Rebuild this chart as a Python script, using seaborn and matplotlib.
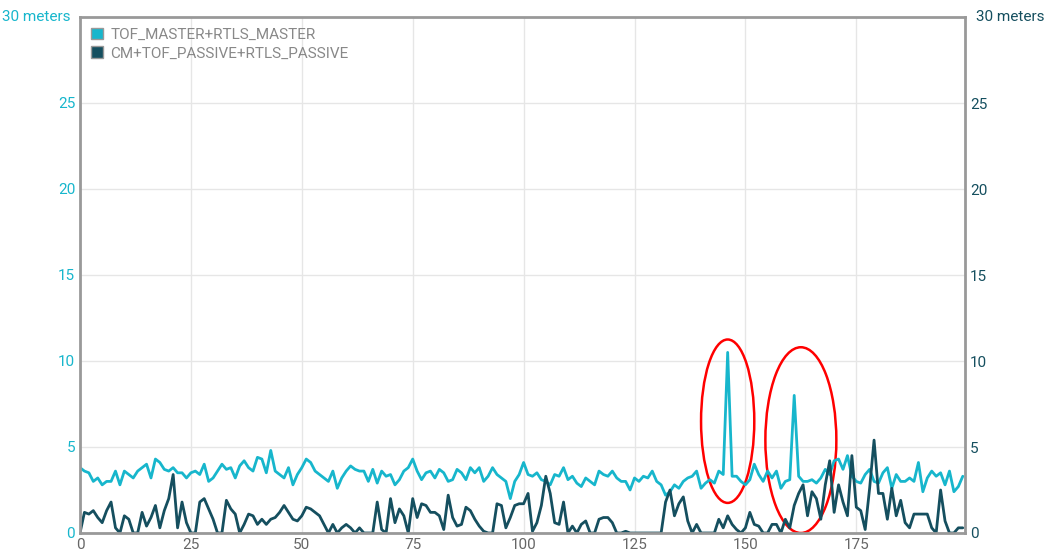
import numpy as np
import pandas as pd
import seaborn as sns
import matplotlib
matplotlib.use("Agg")
import matplotlib.pyplot as plt
from matplotlib.patches import Ellipse, Patch

tof_master = [3.8,3.6,3.5,3.0,3.2,2.8,3.0,3.0,3.6,2.8,
              3.6,3.4,3.2,3.6,3.8,4.0,3.2,4.3,4.1,3.7,
              3.6,3.8,3.5,3.5,3.2,3.5,3.6,3.4,4.0,3.0,
              3.2,3.6,4.0,3.7,3.8,3.2,3.9,4.2,3.8,3.6,
              4.4,4.3,3.5,4.8,3.6,3.4,3.2,3.8,2.8,3.4,
              3.8,4.3,4.1,3.6,3.4,3.2,3.0,3.6,2.6,3.2,
              3.6,3.9,3.7,3.6,3.6,3.0,3.7,2.9,3.6,3.3,
              3.4,2.8,3.1,3.6,3.8,4.3,3.6,3.1,3.5,3.6,
              3.2,3.7,3.5,3.0,3.1,3.7,3.5,3.1,3.8,3.5,
              3.8,3.0,3.3,3.8,3.4,3.2,3.0,2.0,3.0,3.4,
              4.1,3.4,3.3,3.5,3.1,3.0,2.8,3.4,3.3,3.8,
              3.1,3.3,2.9,2.7,3.2,3.0,2.8,3.6,3.4,3.3,
              3.6,3.2,3.0,3.0,2.5,3.2,3.0,3.3,3.2,3.6,
              3.0,2.8,2.2,2.4,2.8,2.6,3.0,3.2,3.3,3.6,
              2.6,2.9,3.1,2.9,3.6,3.4,10.5,3.3,3.3,3.0,
              2.8,3.1,4.0,3.4,3.0,3.6,3.2,3.6,2.6,3.0,
              3.1,8.0,3.3,3.0,3.0,3.1,2.9,3.2,3.7,3.4,
              4.2,4.3,3.7,4.5,3.3,3.0,2.9,3.4,3.7,3.0,
              2.9,3.5,3.8,2.6,3.4,3.0,3.0,3.2,3.0,4.1,
              2.4,3.2,3.6,3.3,3.5,2.8,3.6,2.4,2.7,3.3]
cm_passive = [0,1.2,1.1,1.3,0.9,0.6,1.3,1.8,0.3,0,
              1.0,0.8,0,0,1.2,0.4,0.9,1.6,0.3,1.3,
              2.0,3.4,0.3,1.8,0.6,0,0,1.8,2.0,1.4,
              0.8,0,0,1.9,1.4,1.1,0,0.5,1.1,1.0,
              0.5,0.8,0.5,0.8,0.9,1.2,1.6,1.2,0.8,0.7,
              1.0,1.5,1.4,1.2,1.0,0.5,0,0.5,0,0.3,
              0.5,0.3,0,0.3,0,0,0,1.8,0.2,0,
              2.0,0.6,1.4,1.0,0,2.0,0.9,1.7,1.6,1.2,
              1.2,1.0,0.2,2.2,0.9,0.4,0.5,1.5,1.3,0.8,
              0.4,0.1,0.0,0,1.7,1.6,0.3,0.9,1.6,1.7,
              1.7,2.3,0.1,0.6,1.6,3.3,2.3,0.6,0.5,1.8,
              0,0.4,0,0.5,0.7,0,0,0.8,0.9,0.9,
              0.6,0.0,0,0.1,0,0,0,0,0,0,
              0,0,1.8,2.5,1.0,1.7,2.1,0.7,0,0.5,
              0,0,0,0,0.8,0.3,1.0,0.5,0.2,0,
              0.3,1.2,0.5,0.4,0,0,0.5,0.5,0,0.8,
              0.3,1.6,2.3,2.8,1.0,2.4,2.0,0.8,2.8,4.2,
              1.2,2.8,1.8,1.0,4.5,1.5,1.3,0.2,2.6,5.4,
              2.3,2.3,0.8,2.6,1.0,1.9,0.6,0.3,1.1,1.1,
              1.1,1.1,0.3,0,2.5,0.7,0,0,0.3,0.3]
series_names = ["TOF_MASTER+RTLS_MASTER", "CM+TOF_PASSIVE+RTLS_PASSIVE"]
y_ticks = [0, 5, 10, 15, 20, 25]
x_ticks = [0, 25, 50, 75, 100, 125, 150, 175]

c1, c2 = "#17B6CC", "#154F5F"
n = len(tof_master)
df = pd.DataFrame({"x": list(range(n)) * 2,
                   "y": tof_master + cm_passive,
                   "s": [series_names[0]] * n + [series_names[1]] * n})

sns.set_style("white")
plt.rcParams['font.family'] = ['Roboto', 'DejaVu Sans']
fig = plt.figure(figsize=(10.48, 5.6), dpi=100)
ax = fig.add_axes([80/1048, 27/560, 885/1048, 516/560])
sns.lineplot(data=df, x="x", y="y", hue="s", palette=[c1, c2], linewidth=2,
             ax=ax, legend=False)
ax.set_xlim(0, 199.5)
ax.set_ylim(0, 30)
ax.set_xticks(x_ticks)
ax.set_yticks(y_ticks)
ax.grid(True, color="#E6E6E6", linewidth=1)
ax.set_xlabel(""); ax.set_ylabel("")
for sp in ax.spines.values():
    sp.set_color("#999999"); sp.set_linewidth(2)
ax.tick_params(axis="x", colors="#666666", labelsize=11, length=0)
ax.tick_params(axis="y", colors=c1, labelsize=11, length=0)
ax2 = ax.twinx()
ax2.set_ylim(0, 30)
ax2.set_yticks(y_ticks)
ax2.tick_params(axis="y", colors=c2, labelsize=11, length=0)
for sp in ax2.spines.values():
    sp.set_visible(False)
fig.text(2/1048, 1-17/560, "30 meters", color=c1, fontsize=11, va="center", ha="left")
fig.text(1045/1048, 1-17/560, "30 meters", color=c2, fontsize=11, va="center", ha="right")

ax.add_patch(Ellipse((146, 6.5), 12, 9.5, fill=False, edgecolor="red", linewidth=1.8))
ax.add_patch(Ellipse((162.5, 5.4), 16, 10.8, fill=False, edgecolor="red", linewidth=1.8))

handles = [Patch(facecolor=c1, edgecolor="#999999"), Patch(facecolor=c2, edgecolor="#999999")]
ax.legend(handles, series_names, loc="upper left", frameon=False, fontsize=11,
          labelcolor="#888888", handlelength=0.8, handleheight=0.8,
          handletextpad=0.5, borderaxespad=0.3, labelspacing=0.3)
fig.savefig("out.png", dpi=100)
